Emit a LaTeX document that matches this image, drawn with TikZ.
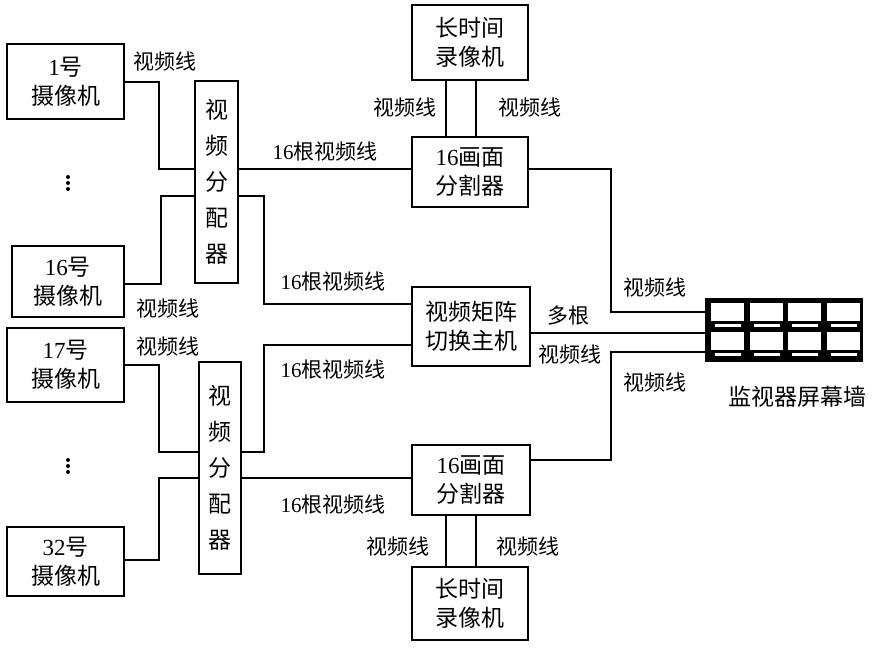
\documentclass[tikz,border=0pt]{standalone}
\usepackage{fontspec}
\setmainfont{Liberation Serif}
\newfontfamily\cjk{Noto Sans CJK SC}
\begin{document}
\begin{tikzpicture}[x=1pt,y=-1pt,
  box/.style={draw,line width=1.2pt,inner sep=0pt,align=center},
  lbl/.style={font=\cjk\fontsize{21}{24}\selectfont,inner sep=0pt},
  ln/.style={line width=1.2pt},
  thk/.style={line width=2.4pt}]
\useasboundingbox (0,0) rectangle (876,649);
\newcommand{\bx}[5]{\node[box,minimum width=#4-#2,minimum height=#5-#3] (#1) at ({(#2+#4)/2},{(#3+#5)/2}) {};}
\bx{c1}{7}{44}{124}{119}
\bx{c16}{12}{246}{124}{317}
\bx{c17}{7}{328}{124}{402}
\bx{c32}{7}{527}{124}{596}
\bx{s1}{195}{81}{238}{283}
\bx{s2}{199}{362}{241}{574}
\bx{rt}{412}{5}{528}{80}
\bx{pt}{412}{137}{528}{207}
\bx{mx}{412}{287}{530}{366}
\bx{pb}{412}{445}{530}{515}
\bx{rb}{412}{567}{528}{640}
\bx{wall}{706}{299}{862}{361}
\begin{scope}[font=\cjk\fontsize{23}{29}\selectfont]
\node[align=center] at (c1) {{\rmfamily 1}号\\摄像机};
\node[align=center] at (c16) {{\rmfamily 16}号\\摄像机};
\node[align=center] at (c17) {{\rmfamily 17}号\\摄像机};
\node[align=center] at (c32) {{\rmfamily 32}号\\摄像机};
\node[align=center,font=\cjk\fontsize{23}{36}\selectfont] at (s1) {视\\频\\分\\配\\器};
\node[align=center,font=\cjk\fontsize{23}{36}\selectfont] at (s2) {视\\频\\分\\配\\器};
\node[align=center] at (rt) {长时间\\录像机};
\node[align=center] at (rb) {长时间\\录像机};
\node[align=center] at (pt) {{\rmfamily 16}画面\\分割器};
\node[align=center] at (pb) {{\rmfamily 16}画面\\分割器};
\node[align=center] at (mx) {视频矩阵\\切换主机};
\node at (797,397) {监视器屏幕墙};
\end{scope}
% monitor wall
\fill (wall.north west) rectangle (wall.south east);
\foreach \i in {0,1,2,3}{
  \foreach \j in {0,1}{
    \fill[white] ({711+\i*38.5},{303+\j*29}) rectangle ++(33,18);
    \fill[white] ({715+\i*38.5},{324+\j*29}) rectangle ++(26,2.5);
  }}
% dots
\foreach \y in {183,466}{\foreach \d in {-6,0,6}\fill (68,\y+\d) circle (2);}
% connections
\draw[ln] (c1.east|-0,82) -- (159,82) -- (159,169) -- (s1.west|-0,169);
\draw[ln] (c16.east|-0,284) -- (161,284) -- (161,196) -- (s1.west|-0,196);
\draw[ln] (s1.east|-0,169) -- (pt.west|-0,169);
\draw[ln] (s1.east|-0,196) -- (264,196) -- (264,304) -- (mx.west|-0,304);
\draw[ln] (c17.east|-0,365) -- (159,365) -- (159,452) -- (s2.west|-0,452);
\draw[ln] (c32.east|-0,560) -- (159,560) -- (159,478) -- (s2.west|-0,478);
\draw[ln] (s2.east|-0,452) -- (264,452) -- (264,345) -- (mx.west|-0,345);
\draw[thk] (s2.east|-0,478) -- (pb.west|-0,478);
\draw[ln] (446,80) -- (446,137); \draw[ln] (476,80) -- (476,137);
\draw[ln] (446,515) -- (446,567); \draw[ln] (476,515) -- (476,567);
\draw[ln] (pt.east|-0,169) -- (611,169) -- (611,312) -- (wall.west|-0,312);
\draw[thk] (mx.east|-0,333) -- (wall.west|-0,333);
\draw[ln] (pb.east|-0,460) -- (611,460) -- (611,352) -- (wall.west|-0,352);
% labels
\node[lbl] at (165,62) {视频线};
\node[lbl] at (168,309) {视频线};
\node[lbl] at (168,347) {视频线};
\node[lbl] at (405,108) {视频线};
\node[lbl] at (530,108) {视频线};
\node[lbl] at (398,547) {视频线};
\node[lbl] at (528,547) {视频线};
\node[lbl] at (655,288) {视频线};
\node[lbl] at (655,383) {视频线};
\node[lbl] at (568,316) {多根};
\node[lbl] at (570,355) {视频线};
\node[lbl] at (325,152) {{\rmfamily 16}根视频线};
\node[lbl] at (333,282) {{\rmfamily 16}根视频线};
\node[lbl] at (333,370) {{\rmfamily 16}根视频线};
\node[lbl] at (333,505) {{\rmfamily 16}根视频线};
\end{tikzpicture}
\end{document}
